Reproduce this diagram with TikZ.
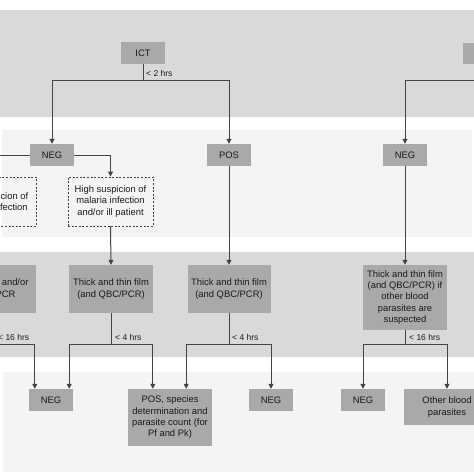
\documentclass[tikz,border=0pt]{standalone}
\usepackage{fontspec}
\setmainfont{Liberation Sans}
\usetikzlibrary{arrows.meta}
\definecolor{banddark}{HTML}{D9D9D9}
\definecolor{bandlight}{HTML}{F4F4F4}
\definecolor{boxgray}{HTML}{A9A9A9}
\definecolor{linec}{HTML}{444444}
\definecolor{textc}{HTML}{1A1A1A}
\tikzset{
  gbox/.style={fill=boxgray, text=textc, font=\fontsize{9.4}{11.3}\selectfont, align=center, inner sep=0pt},
  dotbox/.style={draw=linec, line width=0.9pt, dash pattern=on 2pt off 1.6pt, text=textc, font=\fontsize{9.4}{11.3}\selectfont, align=center, inner sep=0pt},
  lbl/.style={anchor=west, text=textc, font=\fontsize{8.5}{10}\selectfont, inner sep=0pt},
  conn/.style={draw=linec, line width=1pt},
  arr/.style={conn, -{Triangle[length=5pt,width=5pt]}},
}
\begin{document}
\begin{tikzpicture}[x=1pt,y=-1pt]
\useasboundingbox (0,0) rectangle (474,474);
\clip (0,0) rectangle (474,474);
% bands
\fill[banddark] (0,10) rectangle (474,117);
\fill[bandlight] (2,130) rectangle (472,237);
\fill[banddark] (0,252) rectangle (474,357);
\fill[bandlight] (3,372) rectangle (474,472);

% row 1
\node[gbox, minimum width=44pt, minimum height=22pt] (ict) at (143,53) {ICT};
\node[gbox, minimum width=48pt, minimum height=21pt] (rt) at (487,53) {};
\coordinate (ictj) at (143,80);
\coordinate (rtj) at (487,80);

% row 2
\node[gbox, minimum width=44pt, minimum height=22pt] (negl) at (52,155) {NEG};
\node[gbox, minimum width=44pt, minimum height=22pt] (pos) at (229,155) {POS};
\node[gbox, minimum width=44pt, minimum height=22pt] (negr) at (405,155) {NEG};
\node[dotbox, minimum width=85pt, minimum height=49pt] (dotr) at (110.5,201.5) {High suspicion of\\malaria infection\\and/or ill patient};
\node[dotbox, minimum width=85pt, minimum height=49pt] (dotl) at (-6.5,201.5) {Low suspicion of\\malaria infection};

% row 3
\node[gbox, minimum width=84pt, minimum height=48pt] (fl) at (-6,289) {Thick film and/or\\QBC/PCR};
\node[gbox, minimum width=84pt, minimum height=48pt] (f1) at (111,289) {Thick and thin film\\(and QBC/PCR)};
\node[gbox, minimum width=83pt, minimum height=48pt] (f2) at (229,289) {Thick and thin film\\(and QBC/PCR)};
\node[gbox, minimum width=84pt, minimum height=65pt] (f3) at (405,297.5) {Thick and thin film\\(and QBC/PCR) if\\other blood\\parasites are\\suspected};
\coordinate (j0) at (-6,344);
\coordinate (j1) at (111,344);
\coordinate (j2) at (229,344);
\coordinate (j3) at (405,344);

% row 4
\node[gbox, minimum width=44pt, minimum height=22pt] (n1) at (51,400) {NEG};
\node[gbox, minimum width=84pt, minimum height=57pt] (pb) at (170,417.5) {POS, species\\determination and\\parasite count (for\\Pf and Pk)};
\node[gbox, minimum width=44pt, minimum height=22pt] (n2) at (271,400) {NEG};
\node[gbox, minimum width=44pt, minimum height=22pt] (n3) at (363,400) {NEG};
\node[gbox, minimum width=86pt, minimum height=36pt] (ob) at (447,407) {Other blood\\parasites};

% connectors row 1 -> 2
\draw[conn] (ict.south) -- (ictj);
\draw[arr] (ictj) -| (negl.north);
\draw[arr] (ictj) -| (pos.north);
\node[lbl] (l2) at (146,73) {< 2 hrs};
\draw[conn] (rt.south) -- (rtj);
\draw[arr] (rtj) -| (negr.north);

% row 2 internal
\draw[arr] (negl.east) -| (dotr.north);
\draw[arr] (negl.west) -| (dotl.north);

% row 2 -> 3
\draw[arr] (dotr.south) -- (f1.north);
\draw[arr] (dotl.south) -- (fl.north);
\draw[arr] (pos.south) -- (f2.north);
\draw[arr] (negr.south) -- (f3.north);

% row 3 -> 4
\draw[conn] (fl.south) -- (j0);
\draw[arr] (j0) -| ([xshift=6pt]n1.north west);
\node[lbl] (l16a) at (-2,337) {< 16 hrs};

\draw[conn] (f1.south) -- (j1);
\draw[arr] (j1) -| ([xshift=-4pt]n1.north east);
\draw[arr] (j1) -| ([xshift=25pt]pb.north west);
\node[lbl] (l4a) at (115,337) {< 4 hrs};

\draw[conn] (f2.south) -- (j2);
\draw[arr] (j2) -| ([xshift=-26pt]pb.north east);
\draw[arr] (j2) -| (n2.north);
\node[lbl] (l4b) at (232,337) {< 4 hrs};

\draw[conn] (f3.south) -- (j3);
\draw[arr] (j3) -| (n3.north);
\draw[arr] (j3) -| (ob.north);
\node[lbl] (l16b) at (409,337) {< 16 hrs};
\end{tikzpicture}
\end{document}
